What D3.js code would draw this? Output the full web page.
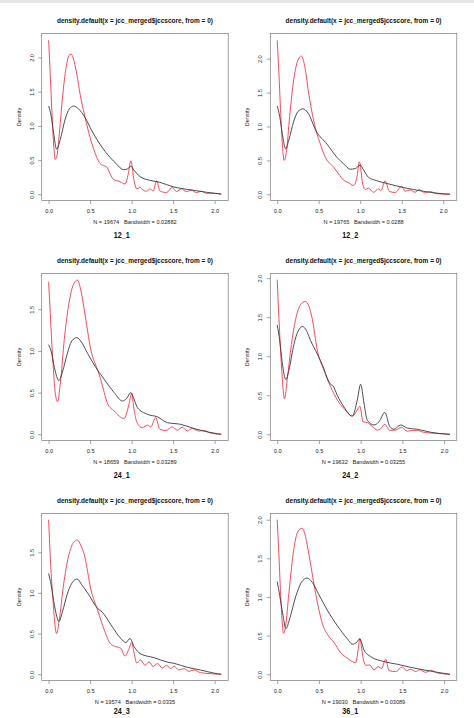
<!DOCTYPE html>
<html>
<head>
<meta charset="utf-8">
<script src="https://cdn.jsdelivr.net/npm/d3@7"></script>
<style>
    body { margin: 0; background: #fff; }
    svg { display: block; }
    text { font-family: "Liberation Sans", Arial, Helvetica, sans-serif; }
</style>
</head>
<body>
<div id="chart"></div>
<script>
// panel info
var panelNames = ["12_1", "12_2", "24_1", "24_2", "24_3", "36_1"];
var nValues = [19674, 19765, 18659, 19632, 19574, 19030];
var bandwidths = ["0.02882", "0.0288", "0.03289", "0.03255", "0.0335", "0.03089"];
var xMax = [2.08, 2.08, 2.08, 2.07, 2.08, 2.07];
var yMax = [2.26, 2.28, 1.855, 1.98, 1.9, 2.0];
var xTicks = [0, 0.5, 1, 1.5, 2];
var yTicks = [
    [0, 0.5, 1, 1.5, 2],
    [0, 0.5, 1, 1.5, 2],
    [0, 0.5, 1, 1.5],
    [0, 0.5, 1, 1.5, 2],
    [0, 0.5, 1, 1.5],
    [0, 0.5, 1, 1.5, 2]
];

// density curves [x, density]
var black12_1 = [[0,1.29],[0.03,1.15],[0.06,0.9],[0.096,0.66],[0.14,0.8],[0.2,1.1],[0.25,1.25],[0.3,1.29],[0.36,1.25],[0.44,1.12],[0.52,0.93],[0.62,0.73],[0.74,0.54],[0.82,0.44],[0.9,0.36],[0.95,0.37],[0.99,0.41],[1.03,0.35],[1.1,0.26],[1.2,0.21],[1.34,0.175],[1.5,0.11],[1.6,0.085],[1.74,0.06],[1.9,0.03],[2.0,0.015],[2.08,0.005]];
var red12_1 = [[0,2.25],[0.02,1.75],[0.04,1.2],[0.06,0.75],[0.08,0.51],[0.1,0.56],[0.13,0.9],[0.17,1.45],[0.21,1.85],[0.245,2.03],[0.27,2.05],[0.3,1.98],[0.34,1.75],[0.38,1.46],[0.44,1.12],[0.5,0.83],[0.58,0.54],[0.62,0.45],[0.66,0.42],[0.7,0.4],[0.74,0.3],[0.78,0.22],[0.86,0.185],[0.92,0.15],[0.96,0.3],[0.99,0.49],[1.03,0.2],[1.06,0.08],[1.1,0.1],[1.14,0.06],[1.18,0.045],[1.22,0.08],[1.26,0.05],[1.3,0.2],[1.34,0.05],[1.42,0.025],[1.49,0.1],[1.54,0.04],[1.6,0.08],[1.66,0.04],[1.72,0.06],[1.78,0.025],[1.84,0.045],[1.9,0.015],[1.98,0.015],[2.08,0]];

var black12_2 = [[0,1.3],[0.03,1.15],[0.06,0.9],[0.104,0.67],[0.14,0.8],[0.2,1.08],[0.25,1.22],[0.31,1.26],[0.37,1.2],[0.47,0.93],[0.6,0.74],[0.72,0.545],[0.8,0.45],[0.88,0.37],[0.94,0.38],[1.0,0.43],[1.04,0.36],[1.1,0.25],[1.2,0.2],[1.32,0.16],[1.52,0.1],[1.76,0.045],[1.9,0.02],[2.0,0.008],[2.08,0.003]];
var red12_2 = [[0,2.27],[0.02,1.8],[0.04,1.25],[0.06,0.78],[0.084,0.5],[0.11,0.62],[0.15,1.15],[0.2,1.7],[0.25,1.98],[0.29,2.04],[0.33,1.9],[0.38,1.48],[0.47,0.93],[0.52,0.74],[0.58,0.545],[0.68,0.4],[0.74,0.3],[0.8,0.21],[0.86,0.17],[0.92,0.13],[0.96,0.25],[0.99,0.48],[1.03,0.15],[1.06,0.07],[1.1,0.09],[1.16,0.03],[1.22,0.08],[1.25,0.055],[1.3,0.2],[1.35,0.045],[1.42,0.025],[1.5,0.12],[1.54,0.045],[1.6,0.065],[1.66,0.03],[1.71,0.07],[1.78,0.02],[1.84,0.04],[1.92,0.01],[2.08,0]];

var black24_1 = [[0,1.076],[0.03,1.0],[0.07,0.8],[0.124,0.644],[0.17,0.76],[0.22,0.95],[0.28,1.12],[0.34,1.16],[0.4,1.1],[0.47,0.97],[0.59,0.77],[0.67,0.66],[0.79,0.5],[0.89,0.4],[0.94,0.43],[0.99,0.5],[1.03,0.42],[1.07,0.32],[1.19,0.24],[1.31,0.21],[1.43,0.14],[1.59,0.12],[1.75,0.07],[1.91,0.03],[2.08,0]];
var red24_1 = [[0,1.83],[0.02,1.45],[0.05,0.9],[0.08,0.5],[0.108,0.39],[0.14,0.6],[0.19,1.15],[0.25,1.6],[0.3,1.8],[0.347,1.85],[0.39,1.72],[0.43,1.49],[0.51,1.01],[0.59,0.77],[0.63,0.65],[0.67,0.5],[0.71,0.37],[0.79,0.28],[0.91,0.19],[0.97,0.37],[1.0,0.49],[1.03,0.29],[1.07,0.13],[1.13,0.08],[1.19,0.11],[1.23,0.09],[1.29,0.2],[1.34,0.06],[1.41,0.045],[1.49,0.09],[1.55,0.05],[1.61,0.085],[1.67,0.04],[1.73,0.07],[1.81,0.04],[1.87,0.045],[1.95,0.015],[2.08,0]];

var black24_2 = [[0,1.4],[0.03,1.2],[0.06,0.92],[0.104,0.7],[0.14,0.82],[0.2,1.15],[0.25,1.32],[0.305,1.38],[0.35,1.33],[0.4,1.2],[0.48,1.03],[0.56,0.84],[0.6,0.72],[0.64,0.64],[0.67,0.62],[0.72,0.5],[0.8,0.35],[0.9,0.234],[0.96,0.44],[1.0,0.64],[1.04,0.4],[1.08,0.18],[1.16,0.12],[1.22,0.16],[1.29,0.28],[1.35,0.1],[1.4,0.065],[1.48,0.12],[1.56,0.08],[1.68,0.065],[1.84,0.026],[1.95,0.01],[2.07,0]];
var red24_2 = [[0,1.98],[0.02,1.5],[0.05,0.9],[0.088,0.455],[0.12,0.7],[0.17,1.15],[0.22,1.47],[0.28,1.66],[0.337,1.7],[0.38,1.64],[0.42,1.48],[0.48,1.08],[0.56,0.82],[0.64,0.61],[0.72,0.44],[0.8,0.33],[0.9,0.234],[0.96,0.31],[0.99,0.36],[1.03,0.16],[1.08,0.15],[1.14,0.1],[1.2,0.055],[1.24,0.07],[1.29,0.13],[1.35,0.05],[1.42,0.055],[1.49,0.09],[1.56,0.04],[1.62,0.05],[1.68,0.05],[1.74,0.03],[1.8,0.02],[1.95,0.008],[2.07,0]];

var black24_3 = [[0,1.24],[0.03,1.1],[0.07,0.85],[0.124,0.65],[0.17,0.78],[0.22,0.97],[0.28,1.12],[0.343,1.17],[0.4,1.1],[0.47,1.0],[0.59,0.81],[0.65,0.76],[0.75,0.61],[0.87,0.44],[0.93,0.39],[0.98,0.44],[1.03,0.34],[1.11,0.25],[1.27,0.205],[1.43,0.15],[1.51,0.135],[1.67,0.086],[1.83,0.053],[1.99,0.015],[2.08,0]];
var red24_3 = [[0,1.9],[0.02,1.45],[0.05,0.95],[0.096,0.5],[0.13,0.68],[0.18,1.1],[0.24,1.45],[0.3,1.62],[0.347,1.65],[0.39,1.58],[0.43,1.47],[0.51,1.04],[0.59,0.79],[0.67,0.545],[0.75,0.37],[0.81,0.34],[0.87,0.32],[0.92,0.225],[0.97,0.32],[1.0,0.39],[1.03,0.26],[1.06,0.14],[1.11,0.175],[1.16,0.11],[1.21,0.155],[1.26,0.094],[1.31,0.135],[1.37,0.078],[1.42,0.11],[1.47,0.07],[1.51,0.1],[1.57,0.053],[1.63,0.07],[1.69,0.037],[1.75,0.053],[1.83,0.02],[1.95,0.008],[2.08,0]];

var black36_1 = [[0,1.2],[0.03,1.02],[0.07,0.76],[0.104,0.59],[0.15,0.72],[0.22,1.0],[0.29,1.19],[0.357,1.245],[0.42,1.19],[0.5,1.03],[0.6,0.83],[0.72,0.63],[0.84,0.46],[0.9,0.39],[0.95,0.41],[0.99,0.46],[1.04,0.315],[1.12,0.23],[1.28,0.165],[1.44,0.13],[1.6,0.09],[1.76,0.056],[1.92,0.026],[2.07,0]];
var red36_1 = [[0,2.0],[0.02,1.55],[0.045,0.95],[0.076,0.53],[0.1,0.62],[0.14,1.05],[0.19,1.55],[0.245,1.84],[0.297,1.89],[0.34,1.78],[0.38,1.55],[0.46,1.05],[0.54,0.66],[0.62,0.49],[0.68,0.415],[0.76,0.28],[0.84,0.21],[0.94,0.15],[0.97,0.315],[0.99,0.46],[1.03,0.21],[1.06,0.117],[1.11,0.12],[1.16,0.056],[1.21,0.1],[1.25,0.075],[1.3,0.195],[1.34,0.048],[1.42,0.035],[1.5,0.095],[1.55,0.048],[1.6,0.065],[1.66,0.035],[1.71,0.06],[1.78,0.026],[1.84,0.052],[1.92,0.017],[2.07,0]];

var blackSeries = [black12_1, black12_2, black24_1, black24_2, black24_3, black36_1];
var redSeries = [red12_1, red12_2, red24_1, red24_2, red24_3, red36_1];

// layout of the 2 x 3 grid
var colLeft = [41.7, 270.3],
    rowTop = [33.5, 273.5, 513.5],
    boxW = 186.5,
    boxH = 167;

var svg = d3.select("#chart")
    .append("svg")
    .attr("width", 474)
    .attr("height", 718);

svg.append("rect")
    .attr("width", 474)
    .attr("height", 3)
    .attr("fill", "#e6e6e6");

function draw(i) {
    var left = colLeft[i % 2],
        top = rowTop[Math.floor(i / 2)];

    var g = svg.append("g")
        .attr("transform", "translate(" + left + "," + top + ")");

// X scale, R style 4% padding
    var x = d3.scaleLinear()
        .domain([-0.04 * xMax[i], 1.04 * xMax[i]])
        .range([0, boxW]);

    var y = d3.scaleLinear()
        .domain([-0.04 * yMax[i], 1.04 * yMax[i]])
        .range([boxH, 0]);

// X axis
    var xAxis = g.append("g")
        .attr("transform", "translate(0," + boxH + ")")
        .call(d3.axisBottom(x).tickValues(xTicks).tickSize(3.5).tickSizeOuter(0)
            .tickPadding(5).tickFormat(d3.format(".1f")));
    xAxis.select(".domain").remove();
    xAxis.selectAll("line").attr("stroke", "#666").attr("stroke-width", 0.6);
    xAxis.selectAll("text")
        .style("font-size", "5.6px")
        .style("fill", "#222");

// Y axis
    var yAxis = g.append("g")
        .call(d3.axisLeft(y).tickValues(yTicks[i]).tickSize(3.5).tickSizeOuter(0)
            .tickFormat(d3.format(".1f")));
    yAxis.select(".domain").remove();
    yAxis.selectAll("line").attr("stroke", "#666").attr("stroke-width", 0.6);
    yAxis.selectAll("text")
        .attr("transform", "rotate(-90)")
        .attr("x", 0)
        .attr("y", -8)
        .attr("dy", 0)
        .attr("text-anchor", "middle")
        .style("font-size", "5.6px")
        .style("fill", "#222");

// Box
    g.append("rect")
        .attr("width", boxW)
        .attr("height", boxH)
        .attr("fill", "none")
        .attr("stroke", "#777")
        .attr("stroke-width", 0.7);

// Curves
    var line = d3.line()
        .x(function (d) { return x(d[0]); })
        .y(function (d) { return y(d[1]); })
        .curve(d3.curveMonotoneX);

    g.append("path")
        .datum(redSeries[i])
        .attr("d", line)
        .attr("fill", "none")
        .attr("stroke", "#ee3a48")
        .attr("stroke-width", 0.9);

    g.append("path")
        .datum(blackSeries[i])
        .attr("d", line)
        .attr("fill", "none")
        .attr("stroke", "#3a3a3a")
        .attr("stroke-width", 0.9);

// Texts
    g.append("text")
        .attr("x", boxW / 2)
        .attr("y", -10.5)
        .attr("text-anchor", "middle")
        .style("font-size", "6.5px")
        .style("font-weight", "bold")
        .style("fill", "#111")
        .text("density.default(x = jcc_merged$jccscore, from = 0)");

    g.append("text")
        .attr("x", boxW / 2)
        .attr("y", boxH + 23.5)
        .attr("text-anchor", "middle")
        .style("font-size", "5.6px")
        .style("fill", "#222")
        .style("white-space", "pre")
        .text("N = " + nValues[i] + "   Bandwidth = " + bandwidths[i]);

    g.append("text")
        .attr("transform", "translate(-21," + (boxH / 2) + ") rotate(-90)")
        .attr("text-anchor", "middle")
        .style("font-size", "5.6px")
        .style("fill", "#222")
        .text("Density");

// panel label, kept inside the page at the bottom row
    var labelY = Math.min(boxH + 37, 714 - top);
    g.append("text")
        .attr("x", 80)
        .attr("y", labelY)
        .attr("text-anchor", "middle")
        .attr("textLength", 16)
        .attr("lengthAdjust", "spacingAndGlyphs")
        .style("font-size", "9px")
        .style("font-weight", "bold")
        .style("fill", "#111")
        .text(panelNames[i]);
}

for (var i = 0; i < panelNames.length; i++) {
    draw(i);
}
</script>
</body>
</html>
